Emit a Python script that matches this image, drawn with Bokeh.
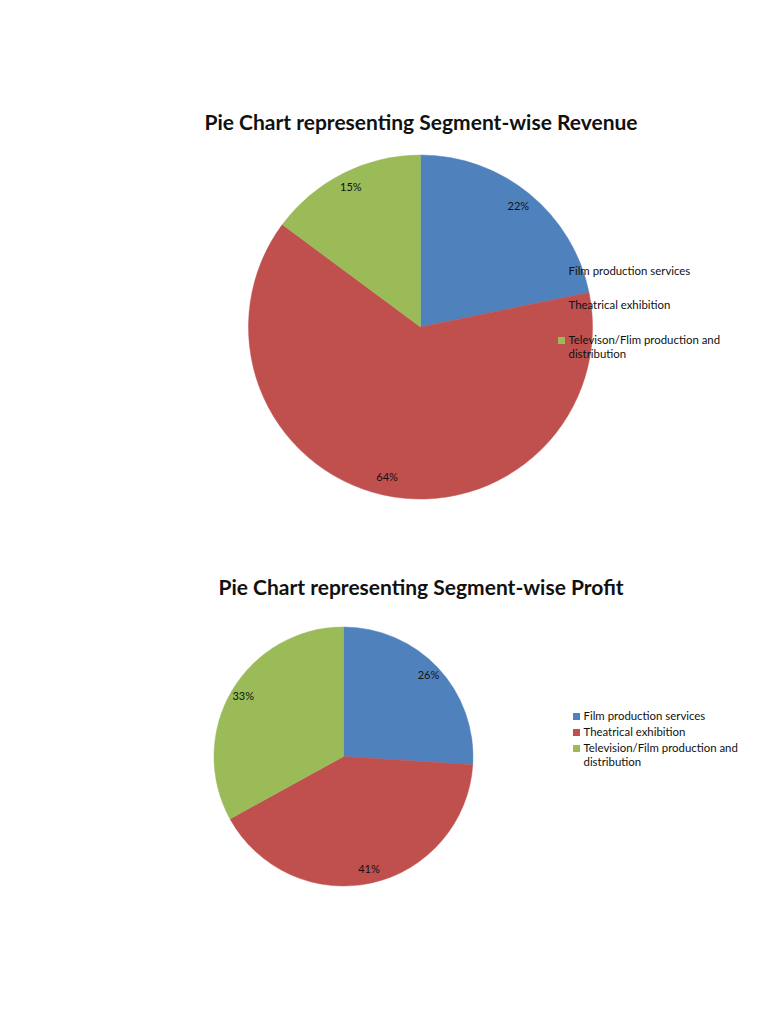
import math
from bokeh.plotting import figure
from bokeh.models import Range1d, ColumnDataSource
from bokeh.core.properties import value
from bokeh.embed import file_html
from bokeh.resources import INLINE

# ---- data ----
rev_title = "Pie Chart representing Segment-wise Revenue"
rev_categories = ["Film production services", "Theatrical exhibition", "Televison/Flim production and\ndistribution"]
rev_values = [22, 64, 15]

prof_title = "Pie Chart representing Segment-wise Profit"
prof_categories = ["Film production services", "Theatrical exhibition", "Television/Film production and\ndistribution"]
prof_values = [26, 41, 33]

colors = ["#4F81BD", "#C0504D", "#9BBB59"]

W, H = 768, 1024
FONT = "Lato"

p = figure(width=W, height=H, x_range=Range1d(0, W), y_range=Range1d(0, H),
           output_backend="svg", toolbar_location=None, min_border=0)
p.axis.visible = False
p.grid.visible = False
p.outline_line_color = None
p.background_fill_color = "white"
p.border_fill_color = "white"


def Y(py):
    return H - py


def pie(title, cats, vals, cx, cy, r, title_y, leg_x, leg_ys, leg_size):
    total = float(sum(vals))
    starts, ends, lx, ly, labels = [], [], [], [], []
    a = math.pi / 2
    for v in vals:
        sweep = v / total * 2 * math.pi
        e = a - sweep
        starts.append(e)
        ends.append(a)
        mid = (a + e) / 2
        lx.append(cx + 0.9 * r * math.cos(mid))
        ly.append(Y(cy) + 0.9 * r * math.sin(mid))
        labels.append("%d%%" % v)
        a = e
    src = ColumnDataSource(dict(start=starts, end=ends, color=colors[:len(vals)]))
    p.wedge(x=cx, y=Y(cy), radius=r, start_angle="start", end_angle="end",
            fill_color="color", line_color="color", line_width=0.5, source=src)
    p.text(x=lx, y=[v + 2 for v in ly], text=labels, text_align="center", text_baseline="middle",
           text_font=value(FONT), text_font_size="11px", text_color="#111111")
    p.text(x=[420.5], y=[Y(title_y)], text=[title], text_align="center",
           text_baseline="middle", text_font=value(FONT), text_font_style="bold",
           text_font_size="21px", text_color="#111111")
    # legend
    mx = [leg_x] * len(cats)
    my = [Y(yy) for yy in leg_ys]
    p.rect(x=mx, y=my, width=leg_size, height=leg_size, fill_color=colors[:len(cats)],
           line_color=None)
    p.text(x=[leg_x + 7] * len(cats), y=[yy + 8 for yy in my], text=cats,
           text_align="left", text_baseline="top", text_font=value(FONT),
           text_font_size="11.4px", text_color="#111111", text_line_height=1.1)


pie(rev_title, rev_categories, rev_values, 420, 326.5, 172, 121, 561, [271, 305, 340], 7)
pie(prof_title, prof_categories, prof_values, 343, 756, 129.5, 586, 576, [716, 732, 748], 7)

open("out.html", "w").write(file_html(p, INLINE))
